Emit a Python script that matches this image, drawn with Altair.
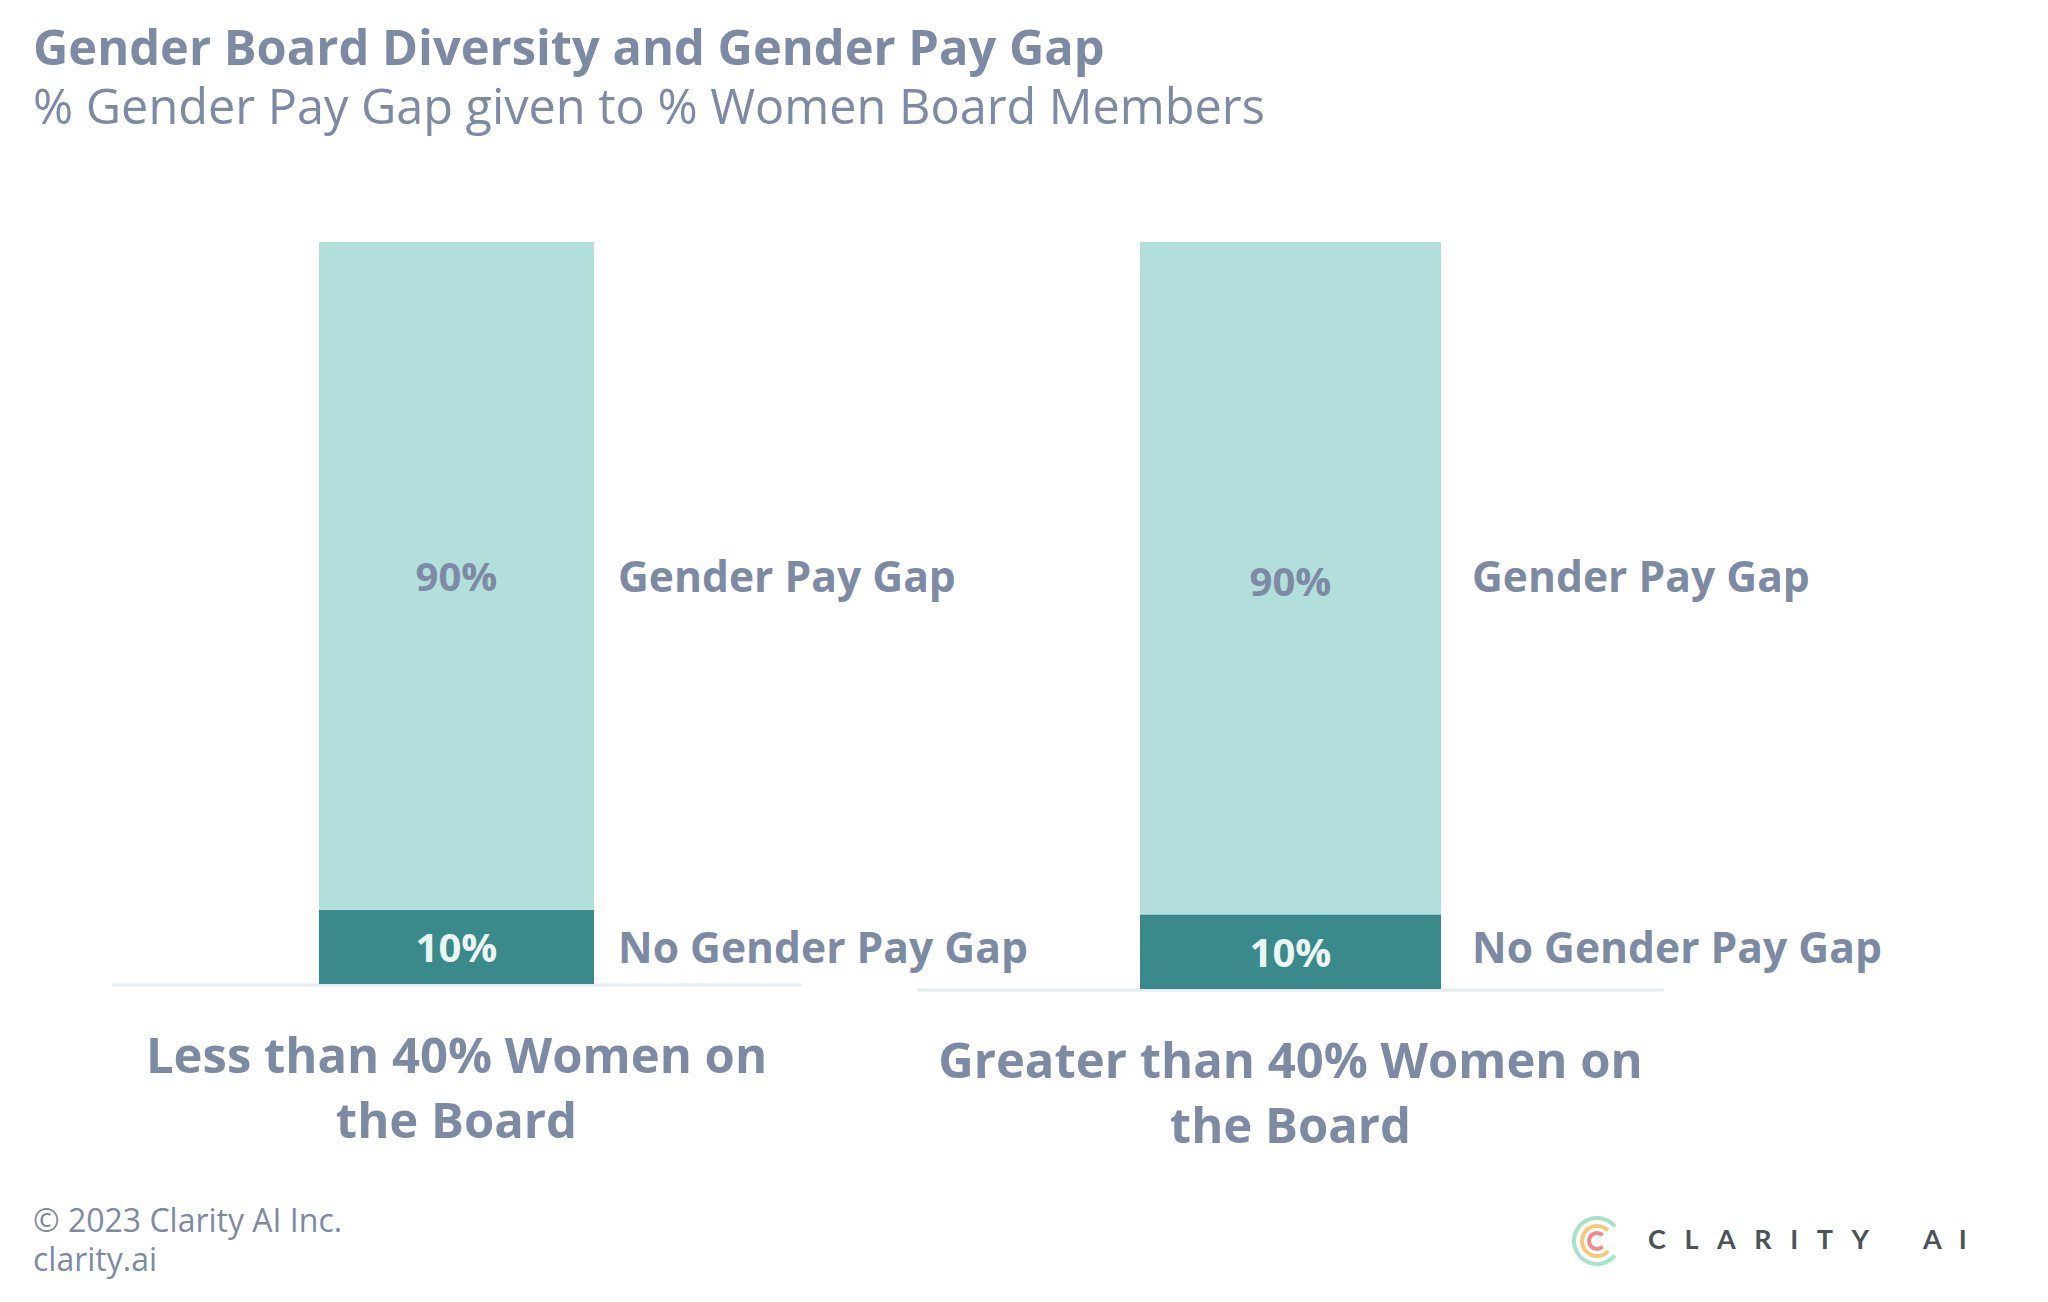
import altair as alt
import pandas as pd

# ---- data -------------------------------------------------------------
groups = ["Less than 40% Women on the Board", "Greater than 40% Women on the Board"]
group_labels = ["Less than 40% Women on|the Board", "Greater than 40% Women on|the Board"]
segments = ["No Gender Pay Gap", "Gender Pay Gap"]
no_gap_pct = [10, 10]
gap_pct = [90, 90]

title_text = "Gender Board Diversity and Gender Pay Gap"
subtitle_text = "% Gender Pay Gap given to % Women Board Members"
footer_lines = ["© 2023 Clarity AI Inc.", "clarity.ai"]
brand_name = "CLARITY AI"

rows = []
for i, g in enumerate(groups):
    for order, (seg, val) in enumerate(zip(segments, [no_gap_pct[i], gap_pct[i]])):
        rows.append({"panel": i, "group": g, "segment": seg, "value": val, "order": order})
df = pd.DataFrame(rows)

# ---- styling ----------------------------------------------------------
FONT = "Open Sans"
SLATE = "#7D8AA3"
LIGHT_TEAL = "#B2DFDB"
DARK_TEAL = "#3A898B"
BASELINE = "#E4EBEE"

W, H = 2048, 742
PAD = {"left": 0, "top": 242, "right": 0, "bottom": 1302 - 242 - H}

x_enc = alt.X("group:N", scale=alt.Scale(type="point", domain=groups, range=[456.5, 1290.5], padding=0), axis=None)
y_scale = alt.Scale(domain=[0, 100], nice=False, zero=True)

stacked = (
    alt.Chart(df)
    .transform_stack(stack="value", groupby=["group"], as_=["y0", "y1"], sort=[alt.SortField("order")])
    .transform_calculate(mid="(datum.y0 + datum.y1) / 2", pct="datum.value + '%'", base="0")
)

# per-panel geometry: bar width, baseline length, vertical shift, label gap
panels = [
    dict(bar_w=275, rule_w=689, shift=0, gap=24),
    dict(bar_w=301, rule_w=746, shift=5, gap=31),
]

layers = []
for i, p in enumerate(panels):
    sub = stacked.transform_filter(alt.datum.panel == i)

    baseline = sub.mark_tick(
        thickness=3, size=p["rule_w"], color=BASELINE, yOffset=p["shift"] + 1
    ).encode(x=x_enc, y=alt.Y("base:Q", scale=y_scale, axis=None))

    bars = sub.mark_bar(width=p["bar_w"], yOffset=p["shift"]).encode(
        x=x_enc,
        y=alt.Y("y0:Q", scale=y_scale, axis=None),
        y2="y1:Q",
        color=alt.Color(
            "segment:N",
            scale=alt.Scale(domain=segments, range=[DARK_TEAL, LIGHT_TEAL]),
            legend=None,
        ),
    )

    pct_text = sub.mark_text(
        font=FONT, fontSize=40, fontWeight="bold", baseline="middle", align="center",
        yOffset=p["shift"] + 3,
    ).encode(
        x=x_enc,
        y=alt.Y("mid:Q", scale=y_scale, axis=None),
        text="pct:N",
        color=alt.condition(alt.datum.segment == "Gender Pay Gap", alt.value(SLATE), alt.value("#EAF5F4")),
    )

    side_text = sub.mark_text(
        font=FONT, fontSize=42.6, fontWeight="bold", baseline="middle", align="left",
        dx=p["bar_w"] / 2 + p["gap"], yOffset=3, color=SLATE,
    ).encode(x=x_enc, y=alt.Y("mid:Q", scale=y_scale, axis=None), text="segment:N")

    cat_text = (
        alt.Chart(pd.DataFrame({"group": [groups[i]], "label": [group_labels[i]]}))
        .mark_text(
            font=FONT, fontSize=49, fontWeight="bold", align="center", baseline="middle",
            lineBreak="|", lineHeight=65, color=SLATE,
        )
        .encode(x=x_enc, y=alt.value(816 + p["shift"]), text="label:N")
    )

    layers += [baseline, bars, pct_text, side_text, cat_text]

# footer
footer = (
    alt.Chart(pd.DataFrame({"t": ["\n".join(footer_lines)]}))
    .mark_text(font=FONT, fontSize=32, align="left", baseline="middle", lineBreak="\n",
               lineHeight=39, color=SLATE)
    .encode(x=alt.value(33), y=alt.value(980), text="t:N")
)

# brand mark: three open rings
logo_df = pd.DataFrame({"k": [0]})
ring_specs = [
    (25, 21, "#A6E3CB", 2.25, 7.17),
    (17, 13, "#F8C878", 2.3, 7.1),
    (10, 6, "#EF8A8E", 2.35, 7.05),
]
rings = [
    alt.Chart(logo_df).mark_arc(color=c)
    .encode(
        x=alt.value(1597), y=alt.value(999),
        theta=alt.value(t0), theta2=alt.value(t1),
        radius=alt.value(r), radius2=alt.value(r2),
    )
    for r, r2, c, t0, t1 in ring_specs
]

first, second = brand_name.split(" ")
spaced_name = "\u2002\u2009\u200a".join(first) + "\u2003\u2003\u2002" + "\u2002\u2009".join(second)
brand = (
    alt.Chart(pd.DataFrame({"t": [spaced_name]}))
    .mark_text(font="Lato", fontSize=27, fontWeight="bold", align="left", baseline="middle", color="#4A5359")
    .encode(x=alt.value(1648), y=alt.value(999), text="t:N")
)

chart = (
    alt.layer(*layers, footer, *rings, brand)
    .properties(
        width=W,
        height=H,
        padding=PAD,
        autosize=alt.AutoSizeParams(type="none"),
        title=alt.TitleParams(
            text=title_text,
            subtitle=subtitle_text,
            anchor="start",
            frame="group",
            dx=33,
            offset=108,
            font=FONT,
            fontSize=48.8,
            fontWeight="bold",
            color=SLATE,
            subtitleFont=FONT,
            subtitleFontSize=48.6,
            subtitleFontWeight="normal",
            subtitleColor=SLATE,
            subtitlePadding=12,
        ),
    )
    .configure(background="white")
    .configure_view(stroke=None, strokeWidth=0)
)

chart.save("out.html", embed_options={"renderer": "svg", "actions": False})
